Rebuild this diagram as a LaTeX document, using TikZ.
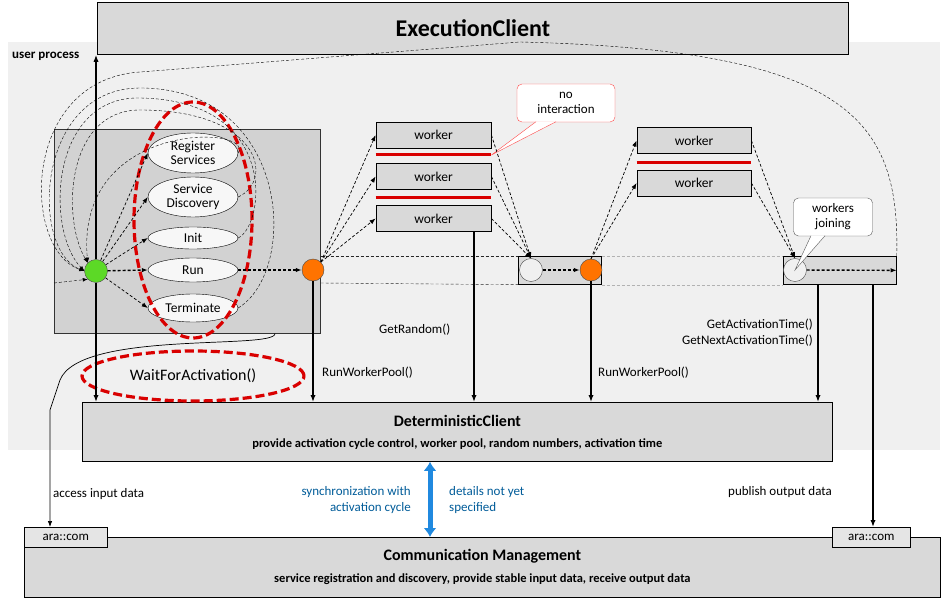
\documentclass[tikz,border=0pt]{standalone}
\usepackage{fontspec}
\setmainfont{Carlito}
\usetikzlibrary{arrows.meta,shapes.geometric,calc}
\begin{document}
\begin{tikzpicture}[x=1pt,y=-1pt,
 box/.style={draw=black,fill=gray!30,line width=0.8pt},
 wk/.style={draw=black,fill=gray!30,line width=0.8pt,minimum width=115pt,minimum height=26pt,inner sep=0pt,font=\fontsize{13.5}{14}\selectfont},
 ell/.style={draw=black,fill=gray!6,ellipse,minimum width=90pt,inner sep=0pt,align=center,font=\fontsize{13.5}{14}\selectfont},
 da/.style={densely dashed,-{Latex[length=6pt]},line width=0.7pt},
 sa/.style={-{Latex[length=7pt]},line width=1.5pt},
 rb/.style={draw=red!85!black,line width=3pt},
 red ell/.style={draw=red!85!black,line width=3.2pt,dash pattern=on 9pt off 4pt,ellipse},
 lbl/.style={font=\fontsize{13}{16}\selectfont,inner sep=1pt}]
\useasboundingbox (0,0) rectangle (948,604);
\fill[white] (0,0) rectangle (948,604);
% user process
\fill[gray!12] (8,42) rectangle (940,450);
\node[anchor=north west,font=\bfseries\fontsize{13}{13}\selectfont,inner sep=0pt] (up) at (12,52) {user process};
% Execution client
\node[box,minimum width=751pt,minimum height=52pt,anchor=north west,font=\bfseries\fontsize{24}{26}\selectfont,inner sep=0pt] (ec) at (97,2) {ExecutionClient};
% left box
\node[box,fill=gray!35,draw=black!80,line width=0.6pt,minimum width=266pt,minimum height=204pt,anchor=north west,inner sep=0pt] (lb) at (54,129) {};
% ellipses
\node[ell,minimum height=40pt] (rs) at (193,153) {Register\\Services};
\node[ell,minimum height=40pt] (sd) at (193,197) {Service\\Discovery};
\node[ell,minimum height=22pt] (in) at (193,238) {Init};
\node[ell,minimum height=24pt] (rn) at (193,270) {Run};
\node[ell,minimum height=28pt] (tm) at (193,308) {Terminate};
\node[red ell,minimum width=118pt,minimum height=236pt] (re) at (193,220) {};
% circles
\node[circle,draw=gray!60!black,fill=green!60!lime!70!gray,minimum size=23pt,inner sep=0pt] (g) at (96,271) {};
\node[circle,draw=gray!60!black,fill=orange!90!red,minimum size=22pt,inner sep=0pt] (o1) at (313,270) {};
% pool boxes
\node[box,fill=gray!30,line width=0.7pt,minimum width=83pt,minimum height=28pt,anchor=north west,inner sep=0pt] (pb1) at (518,256) {};
\node[box,fill=gray!30,line width=0.7pt,minimum width=113pt,minimum height=28pt,anchor=north west,inner sep=0pt] (pb2) at (783,256) {};
\node[circle,draw=gray!60!black,fill=gray!12,minimum size=23pt,inner sep=0pt] (c1) at (531,270) {};
\node[circle,draw=gray!60!black,fill=orange!90!red,minimum size=22pt,inner sep=0pt] (o2) at (591,270) {};
\node[circle,draw=gray!60!black,fill=gray!12,minimum size=23pt,inner sep=0pt] (c2) at (795,270) {};
% dashed horizontals
\draw[densely dashed,gray!30!black] (lb.east|-0,256) -- (pb1.north west);
\draw[densely dashed,gray!30!black] (lb.east|-0,283) -- (pb1.south west);
\draw[densely dashed,gray!60] (pb1.north east) -- (pb2.north west);
\draw[densely dashed,gray!60] (pb1.south east) -- (pb2.south west);
% workers
\node[wk] (w1) at (433.5,135) {worker};
\node[wk] (w2) at (433.5,176.5) {worker};
\node[wk] (w3) at (433.5,218.5) {worker};
\node[wk,minimum width=114pt] (w4) at (694,140.5) {worker};
\node[wk,minimum width=114pt] (w5) at (694,183) {worker};
\draw[rb] (w1.west|-0,155) -- (w1.east|-0,155) coordinate (r1);
\draw[rb] (w1.west|-0,198) -- (w1.east|-0,198);
\draw[rb] (w4.west|-0,163) -- (w4.east|-0,163);
% callouts
\node[draw=red!70,rounded corners=5pt,fill=white,minimum width=98pt,minimum height=38pt,align=center,font=\fontsize{13}{15}\selectfont,inner sep=0pt] (ni) at (566,103) {no\\interaction};
\draw[red!70,fill=white] ($(ni.south)+(-30,-0.5)$) -- (r1) -- ($(ni.south)+(-10,-0.5)$);
\node[draw=gray!70!black,rounded corners=5pt,fill=white,minimum width=79pt,minimum height=38pt,align=center,font=\fontsize{13}{15}\selectfont,inner sep=0pt] (wj) at (833,217) {workers\\joining};
\draw[gray!70!black,fill=white] ($(wj.south)+(-22,-0.5)$) -- (c2.center) -- ($(wj.south)+(-8,-0.5)$);
% flows green to ellipses
\foreach \e in {rs,sd,in,tm} \draw[da] (g) -- (\e.west);
\draw[da,line width=1.4pt] (g) -- (rn.west);
\draw[da,line width=1.4pt] (rn.east) -- (o1);
% loops back
\draw[densely dashed,-{Latex[length=5pt]}] (rs.east) .. controls (255,125) and (75,120) .. (g.north west);
\draw[densely dashed,-{Latex[length=5pt]}] (sd.east) .. controls (275,180) and (260,110) .. (140,110) .. controls (65,110) and (62,220) .. (g.north west);
\draw[densely dashed,-{Latex[length=5pt]}] (in.east) .. controls (265,225) and (280,100) .. (140,98) .. controls (50,96) and (45,230) .. (g.west);
\draw[densely dashed,-{Latex[length=5pt]}] (tm.east) .. controls (300,270) and (290,88) .. (140,88) .. controls (35,88) and (30,250) .. (g.west);
\draw[densely dashed,-{Latex[length=5pt]}] (pb2.north east) .. controls (900,120) and (850,50) .. (520,42) -- (140,72) .. controls (20,80) and (22,250) .. (g.west);
\draw[densely dashed,-{Latex[length=5pt]}] (54,283) -- (g.south west);
% to workers
\foreach \w in {w1,w2,w3} {\draw[da] (o1.north east) -- (\w.west); \draw[da] (\w.east) -- (c1.north);}
\foreach \w in {w4,w5} {\draw[da] (o2.north) -- (\w.west); \draw[da] (\w.east) -- (c2.north);}
\draw[da,line width=1.4pt] (c1) -- (o2);
\draw[da,line width=1.4pt] (c2) -- (pb2.east);
% Deterministic client
\node[box,fill=gray!30,minimum width=750pt,minimum height=59pt,anchor=north west,inner sep=0pt] (dc) at (82,402) {};
\node[font=\bfseries\fontsize{16}{17}\selectfont] (dct) at ($(dc.north)+(0,19)$) {DeterministicClient};
\node[font=\bfseries\fontsize{12.5}{13}\selectfont] (dcs) at ($(dc.north)+(0,42)$) {provide activation cycle control, worker pool, random numbers, activation time};
% Communication management
\node[box,fill=gray!30,minimum width=916pt,minimum height=60pt,anchor=north west,inner sep=0pt] (cm) at (24,537) {};
\node[font=\bfseries\fontsize{16}{17}\selectfont] (cmt) at ($(cm.north)+(0,19)$) {Communication Management};
\node[font=\bfseries\fontsize{12.5}{13}\selectfont] (cms) at ($(cm.north)+(0,42)$) {service registration and discovery, provide stable input data, receive output data};
\node[box,fill=gray!20,line width=0.6pt,minimum width=83pt,minimum height=20pt,anchor=north west,inner sep=0pt,font=\fontsize{13}{13}\selectfont] (a1) at (24,527) {ara::com};
\node[box,fill=gray!20,line width=0.6pt,minimum width=78pt,minimum height=20pt,anchor=north west,inner sep=0pt,font=\fontsize{13}{13}\selectfont] (a2) at (832,527) {ara::com};
% WaitForActivation
\node[red ell,minimum width=222pt,minimum height=50pt,font=\fontsize{16}{17}\selectfont] (wfa) at (193,376) {WaitForActivation()};
% vertical solid lines
\draw[sa] (g) -- (ec.south west-|g);
\draw[sa] (g) -- (dc.north-|g);
\draw[sa] (o1) -- (dc.north-|o1);
\draw[sa] (w3.south-|474,0) -- (dc.north-|474,0);
\draw[sa] (o2) -- (dc.north-|o2);
\draw[sa] (pb2.south-|818,0) -- (dc.north-|818,0);
\draw[sa] (pb2.south-|873,0) -- (a2.north-|873,0);
\draw[-{Latex[length=6pt]},line width=0.7pt] (lb.south-|275,0) .. controls (275,350) and (80,330) .. (60,380) -- (50,410) -- (a1.north-|50,0);
% labels
\node[lbl,anchor=west] (l1) at (378,330) {GetRandom()};
\node[lbl,anchor=west] (l2) at (321,373) {RunWorkerPool()};
\node[lbl,anchor=west] (l3) at (597,373) {RunWorkerPool()};
\node[lbl,anchor=east,align=right] (l4) at (814,333) {GetActivationTime()\\GetNextActivationTime()};
\node[lbl,anchor=west] (l5) at (52,494) {access input data};
\node[lbl,anchor=west] (l6) at (727,492) {publish output data};
\node[lbl,anchor=east,align=right,text=blue!40!cyan!60!black] (l7) at (412,500) {synchronization with\\activation cycle};
\node[lbl,anchor=west,align=left,text=blue!40!cyan!60!black] (l8) at (448,500) {details not yet\\specified};
\draw[{Latex[length=9pt,width=13pt]}-{Latex[length=9pt,width=13pt]},line width=5pt,draw=blue!45!cyan!75!gray] (dc.south-|430,0) -- (cm.north-|430,0);
\end{tikzpicture}
\end{document}
